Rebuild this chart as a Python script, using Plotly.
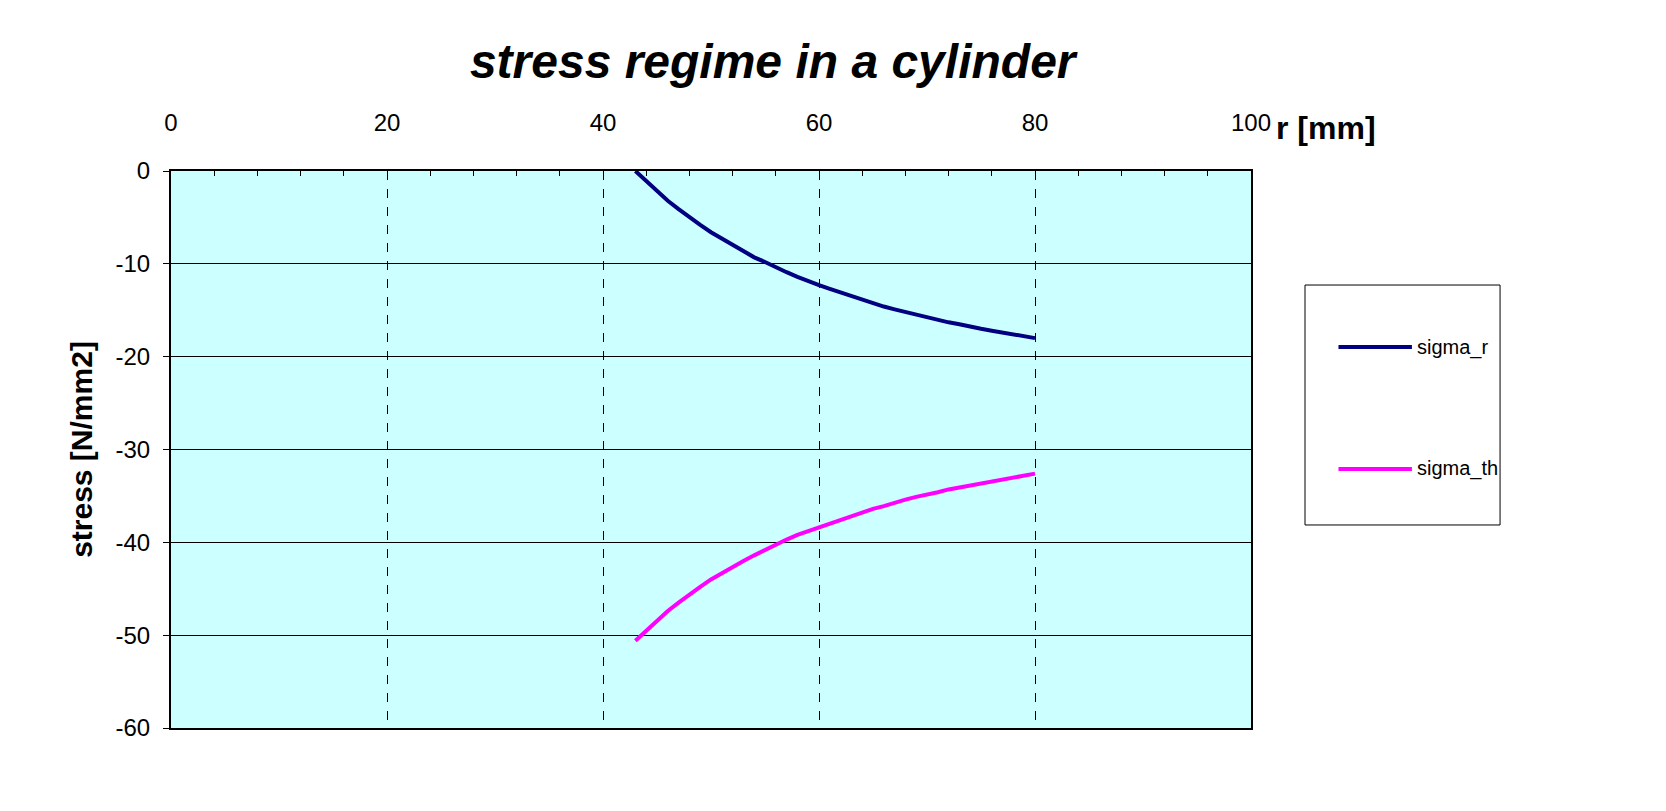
import plotly.graph_objects as go

r_mm = list(range(43, 81))
sigma_r = [0.0, -1.1, -2.2, -3.2, -4.1, -5.0, -5.8, -6.6, -7.3, -8.0, -8.7, -9.3, -9.8, -10.4,
           -10.9, -11.4, -11.9, -12.3, -12.7, -13.1, -13.5, -13.9, -14.2, -14.6, -14.9, -15.2,
           -15.5, -15.8, -16.0, -16.3, -16.5, -16.8, -17.0, -17.2, -17.4, -17.6, -17.8, -18.0]
sigma_th = [-50.6, -49.5, -48.4, -47.4, -46.5, -45.6, -44.8, -44.0, -43.3, -42.6, -42.0, -41.4,
            -40.8, -40.2, -39.7, -39.2, -38.8, -38.3, -37.9, -37.5, -37.1, -36.7, -36.4, -36.1,
            -35.7, -35.4, -35.1, -34.9, -34.6, -34.3, -34.1, -33.9, -33.6, -33.4, -33.2, -33.0,
            -32.8, -32.6]
y_ticks = [0, -10, -20, -30, -40, -50, -60]
y_ticklabels = ["0", "-10", "-20", "-30", "-40", "-50", "-60"]

fig = go.Figure()
fig.add_trace(go.Scatter(x=r_mm, y=sigma_r, mode="lines", name="sigma_r",
                         line=dict(color="#000080", width=4)))
fig.add_trace(go.Scatter(x=r_mm, y=sigma_th, mode="lines", name="sigma_th",
                         line=dict(color="#FF00FF", width=4)))

font = dict(family="Liberation Sans, Arial", size=24, color="black")
fig.update_layout(
    width=1666, height=811, showlegend=False,
    paper_bgcolor="white", plot_bgcolor="#CCFFFF",
    margin=dict(l=163, r=423, t=163, b=91),
    font=font,
    title=dict(text="<b><i>stress regime in a cylinder</i></b>", x=0.459, xanchor="center",
               y=0.935, yanchor="middle", font=dict(size=48, family="Liberation Sans, Arial")),
    xaxis=dict(range=[0, 100], side="top", dtick=20, showline=True, linecolor="black",
               linewidth=2, mirror=True, ticks="inside", ticklen=8, tickcolor="black",
               ticklabelstandoff=28,
               minor=dict(dtick=4, ticks="inside", ticklen=5, tickcolor="black"),
               showgrid=True, gridcolor="black", griddash="dash", gridwidth=1, zeroline=False),
    yaxis=dict(range=[-60, 0], tickvals=y_ticks, ticktext=y_ticklabels, showline=True,
               linecolor="black", linewidth=2, mirror=True, ticks="outside", ticklen=6,
               tickcolor="black", ticklabelstandoff=8,
               showgrid=True, gridcolor="black", gridwidth=1, zeroline=False,
               title=dict(text="<b>stress [N/mm2]</b>", font=dict(size=30), standoff=14)),
)
fig.add_annotation(text="<b>r [mm]</b>", xref="paper", yref="paper", x=1.118, y=1.077,
                   yanchor="middle", showarrow=False, font=dict(size=32))
# legend box
fig.add_shape(type="rect", xref="paper", yref="paper", x0=1.05, x1=1.2306, y0=0.3645, y1=0.7953,
              line=dict(color="black", width=1), fillcolor="white")
for yy, name, col in [(0.684, "sigma_r", "#000080"), (0.465, "sigma_th", "#FF00FF")]:
    fig.add_shape(type="line", xref="paper", yref="paper", x0=1.081, x1=1.149, y0=yy, y1=yy,
                  line=dict(color=col, width=4))
    fig.add_annotation(text=name, xref="paper", yref="paper", x=1.152, y=yy, xanchor="left",
                       yanchor="middle", showarrow=False, font=dict(size=20))
fig.write_html("out.html")
